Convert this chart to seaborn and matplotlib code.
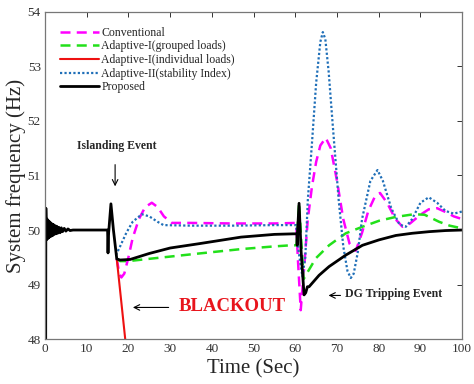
import numpy as np
import pandas as pd
import matplotlib
matplotlib.use("Agg")
import matplotlib.pyplot as plt
import seaborn as sns

# ---- data ----
proposed_t = [0.15, 0.2, 0.35, 0.5, 0.65, 0.8, 0.95, 1.1, 1.25, 1.4, 1.55, 1.7, 1.85, 2.0, 2.2,
              2.4, 2.6, 2.8, 3.0, 3.3, 3.6, 3.9, 4.2, 4.6, 5.0, 5.5, 6.0, 6.7, 15.0, 15.1, 15.2,
              15.8, 16.4, 17.2, 18.0, 20.4, 25.0, 30.0, 37.0, 47.0, 55.0, 59.6, 60.4, 60.45,
              60.5, 60.9, 61.4, 62.1, 62.5, 62.9, 63.3, 65.7, 68.1, 72.1, 76.1, 80.1, 84.1,
              88.0, 92.1, 96.0, 100.0]
proposed_f = [47.5, 50.4, 49.82, 50.2, 49.84, 50.17, 49.86, 50.15, 49.88, 50.13, 49.89, 50.11,
              49.9, 50.1, 49.92, 50.08, 49.93, 50.07, 49.94, 50.05, 49.95, 50.04, 49.97, 50.03,
              49.98, 50.02, 49.99, 50.0, 50.0, 49.58, 49.9, 50.48, 50.0, 49.47, 49.45, 49.46,
              49.57, 49.67, 49.75, 49.87, 49.92, 49.93, 49.93, 49.72, 49.9, 50.49, 49.6, 48.81,
              48.85, 48.96, 48.96, 49.17, 49.33, 49.54, 49.72, 49.82, 49.9, 49.94, 49.97,
              49.99, 50.0]

conv_t = [17.2, 17.8, 18.3, 19.0, 20.0, 21.0, 22.5, 24.0, 25.6, 27.0, 28.5, 30.4, 35.0, 45.0,
          55.0, 60.2, 60.6, 61.3, 62.0, 63.0, 64.0, 65.0, 66.0, 67.3, 68.5, 70.0, 71.5, 73.0,
          74.5, 76.0, 77.5, 79.0, 80.3, 82.0, 84.0, 85.7, 87.5, 90.0, 92.0, 94.0, 96.0, 98.0,
          100.0]
conv_f = [49.47, 49.2, 49.13, 49.2, 49.5, 49.85, 50.2, 50.42, 50.5, 50.42, 50.25, 50.13, 50.13,
          50.12, 50.12, 50.13, 49.5, 48.53, 49.2, 50.2, 50.8, 51.25, 51.55, 51.69, 51.5, 50.9,
          50.2, 49.75, 49.62, 49.95, 50.35, 50.6, 50.68, 50.5, 50.2, 50.06, 50.12, 50.28,
          50.38, 50.4, 50.33, 50.25, 50.2]

grouped_t = [17.2, 18.0, 20.0, 26.0, 37.0, 47.0, 55.0, 59.0, 60.3, 60.9, 61.5, 62.0, 62.5,
             64.9, 68.1, 72.1, 76.1, 80.1, 84.1, 88.5, 91.0, 94.5, 97.0, 100.0]
grouped_f = [49.47, 49.43, 49.43, 49.48, 49.57, 49.65, 49.7, 49.72, 49.72, 50.5, 49.7, 49.1,
             49.17, 49.48, 49.72, 49.94, 50.06, 50.17, 50.24, 50.29, 50.28, 50.15, 50.08, 50.03]

indiv_t = [17.2, 19.5]
indiv_f = [49.47, 47.8]

adapt2_t = [17.0, 18.0, 19.5, 21.0, 23.2, 25.0, 27.0, 28.4, 35.0, 45.0, 55.0, 60.2, 60.8, 61.7,
            62.4, 63.0, 64.0, 65.0, 66.0, 66.6, 67.2, 68.0, 69.0, 70.4, 71.5, 72.5, 73.3, 74.0,
            75.0, 76.0, 78.0, 79.7, 81.0, 83.0, 85.0, 86.5, 88.0, 90.0, 92.0, 94.0, 96.0, 98.0,
            100.0]
adapt2_f = [49.54, 49.7, 49.95, 50.15, 50.29, 50.25, 50.15, 50.09, 50.08, 50.08, 50.09, 50.09,
            49.6, 49.15, 49.5, 50.55, 51.6, 52.7, 53.45, 53.63, 53.5, 52.9, 51.9, 50.55, 49.7,
            49.25, 49.12, 49.2, 49.6, 50.2, 50.9, 51.1, 50.9, 50.4, 50.1, 50.06, 50.2, 50.5,
            50.6, 50.5, 50.35, 50.3, 50.34]

x_ticks = list(range(0, 101, 10))
y_ticks = list(range(48, 55))

# ---- style ----
sns.set_style("white")
plt.rcParams['font.family'] = ['Liberation Serif', 'DejaVu Serif']

fig = plt.figure(figsize=(4.74, 3.84), dpi=100)
ax = fig.add_axes([0.095, 0.117, 0.88, 0.852])

series = [
    ("Conventional", conv_t, conv_f, "#ff00ff", (0, (4, 2.5)), 1.8),
    ("Adaptive-I(grouped loads)", grouped_t, grouped_f, "#22e01a", (0, (4, 2.5)), 1.8),
    ("Adaptive-I(individual loads)", indiv_t, indiv_f, "#ee1111", "-", 1.5),
    ("Adaptive-II(stability Index)", adapt2_t, adapt2_f, "#1f6fb8", (0, (1, 1)), 1.6),
    ("Proposed", proposed_t, proposed_f, "black", "-", 2.0),
]
for label, t, f, color, ls, lw in series:
    df = pd.DataFrame({"t": t, "f": f})
    sns.lineplot(data=df, x="t", y="f", sort=False, estimator=None, ax=ax,
                 color=color, linestyle=ls, linewidth=lw, label=label)

ax.set_xlim(0, 100)
ax.set_ylim(48, 54)
ax.set_xticks(x_ticks)
ax.set_yticks(y_ticks)
ax.tick_params(direction='in', top=True, right=True, length=3.5, width=0.7,
               labelsize=9.5, pad=3, colors='#333333')
for s in ax.spines.values():
    s.set_color('#777777')
    s.set_linewidth(0.9)

ax.set_xlabel("Time (Sec)", fontsize=15, labelpad=3)
ax.set_ylabel("System frequency (Hz)", fontsize=15, labelpad=1.5)

leg = ax.legend(loc='upper left', bbox_to_anchor=(0.025, 0.969), frameon=False,
                fontsize=8.5, handlelength=3.3, handletextpad=0.2, labelspacing=0.14,
                borderaxespad=0.0)

# annotations
ax.annotate("", xy=(16.8, 50.75), xytext=(16.8, 51.25),
            arrowprops=dict(arrowstyle='->', color='black', lw=0.8))
ax.text(17.3, 51.54, "Islanding Event", fontsize=8.5, fontweight='bold',
        ha='center', va='center')

ax.annotate("", xy=(20.4, 48.58), xytext=(30.3, 48.58),
            arrowprops=dict(arrowstyle='->', color='black', lw=0.8))
ax.text(32.0, 48.6, "BLACKOUT", fontsize=13.5, fontweight='bold', color='#e8141c',
        ha='left', va='center')

ax.annotate("", xy=(67.3, 48.8), xytext=(71.5, 48.8),
            arrowprops=dict(arrowstyle='->', color='black', lw=0.8))
ax.text(72.0, 48.82, "DG Tripping Event", fontsize=8.5, fontweight='bold',
        ha='left', va='center')

fig.savefig("out.png", dpi=100)
